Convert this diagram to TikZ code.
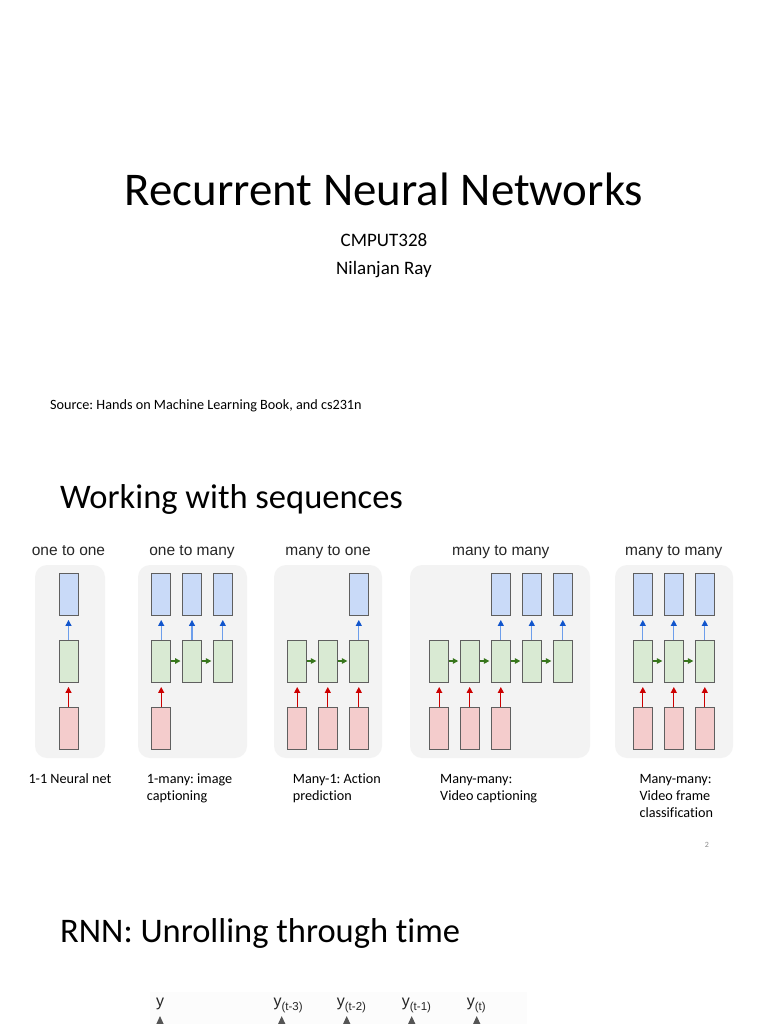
\documentclass[tikz,border=0pt]{standalone}
\usepackage{fontspec}
\setmainfont{Carlito}[Ligatures=NoCommon]
\newfontfamily\arialf{Liberation Sans}
\usetikzlibrary{arrows.meta}
\definecolor{panelgray}{HTML}{F3F3F3}
\definecolor{outfill}{HTML}{C9DAF8}
\definecolor{hidfill}{HTML}{D9EAD3}
\definecolor{infill}{HTML}{F4CCCC}
\definecolor{cellborder}{HTML}{5F5F5F}
\definecolor{blueL}{HTML}{6D9EEB}
\definecolor{blueD}{HTML}{1155CC}
\definecolor{redD}{HTML}{CC0000}
\definecolor{greenD}{HTML}{38761D}
\definecolor{tipgray}{HTML}{555555}
\tikzset{
  cell/.style={draw=cellborder, line width=0.9pt, minimum width=19pt, minimum height=42pt, inner sep=0pt},
  outcell/.style={cell, fill=outfill},
  hidcell/.style={cell, fill=hidfill},
  incell/.style={cell, fill=infill},
  panel/.style={fill=panelgray, rounded corners=12pt, draw=none, inner sep=0pt},
  upblue/.style={draw=blueL, line width=1.2pt, -{Triangle[length=6pt,width=6pt,color=blueD]}, shorten >=4.5pt},
  upred/.style={draw=redD, line width=1.2pt, -{Triangle[length=6pt,width=6pt,color=redD]}, shorten >=4.5pt},
  rgreen/.style={draw=greenD, line width=1.2pt, -{Triangle[length=5.5pt,width=5.5pt,color=greenD]}, shorten >=1.5pt},
  gtip/.style={draw=tipgray, line width=1.2pt, -{Triangle[length=8pt,width=7pt,color=tipgray]}},
  ptitle/.style={anchor=base, font=\arialf\fontsize{15.5}{17}\selectfont, text=black!85},
  lab/.style={anchor=base west, inner sep=0pt, font=\fontsize{14.2}{17}\selectfont},
  head/.style={anchor=base west, inner sep=0pt, font=\fontsize{34.5}{40}\selectfont},
  ylab/.style={anchor=base west, inner sep=0pt, font=\arialf\fontsize{16}{17}\selectfont, text=black!85},
}
\newcommand{\ysub}[1]{y\raisebox{-4pt}{\fontsize{11.5}{12}\selectfont #1}}
\begin{document}
\frenchspacing
\begin{tikzpicture}[x=1pt,y=-1pt]
\useasboundingbox (0,0) rectangle (768,1024);
\clip (0,0) rectangle (768,1024);
\fill[white] (0,0) rectangle (768,1024);

% ---------- title slide ----------
\node[anchor=base, inner sep=0pt, font=\fontsize{46.9}{52}\selectfont] (title) at (384,206) {Recurrent Neural Networks};
\node[anchor=base, inner sep=0pt, font=\fontsize{19}{22}\selectfont] (course) at (384,246) {CMPUT328};
\node[anchor=base, inner sep=0pt, font=\fontsize{19}{22}\selectfont] (author) at (384,274) {Nilanjan Ray};
\node[lab] (source) at (50,409) {Source: Hands on Machine Learning Book, and cs231n};

% ---------- working with sequences ----------
\node[head] (seqhead) at (60,508) {Working with sequences};

% panels
\node[panel, minimum width=70pt, minimum height=193pt] (panel1) at (70,661.5) {};
\node[panel, minimum width=109pt, minimum height=193pt] (panel2) at (192.5,661.5) {};
\node[panel, minimum width=108pt, minimum height=193pt] (panel3) at (328,661.5) {};
\node[panel, minimum width=180pt, minimum height=193pt] (panel4) at (500,661.5) {};
\node[panel, minimum width=118pt, minimum height=193pt] (panel5) at (674,661.5) {};

\node[ptitle] (t1) at (68.5,555) {one to one};
\node[ptitle] (t2) at (192,555) {one to many};
\node[ptitle] (t3) at (328,555) {many to one};
\node[ptitle] (t4) at (500.8,555) {many to many};
\node[ptitle] (t5) at (673.8,555) {many to many};

% panel 1
\node[outcell] (o11) at (68.5,594) {};
\node[hidcell] (h11) at (68.5,661) {};
\node[incell] (i11) at (68.5,728) {};
\draw[upblue] (h11.north) -- (o11.south);
\draw[upred] (i11.north) -- (h11.south);

% panel 2
\foreach \x [count=\i] in {161.2,192,222.8} {
  \node[outcell] (o2\i) at (\x,594) {};
  \node[hidcell] (h2\i) at (\x,661) {};
}
\node[incell] (i21) at (161.2,728) {};
\foreach \i in {1,2,3} \draw[upblue] (h2\i.north) -- (o2\i.south);
\foreach \i/\j in {1/2,2/3} \draw[rgreen] (h2\i.east) -- (h2\j.west);
\draw[upred] (i21.north) -- (h21.south);

% panel 3
\foreach \x [count=\i] in {297.2,327.8,358.8} {
  \node[hidcell] (h3\i) at (\x,661) {};
  \node[incell] (i3\i) at (\x,728) {};
}
\node[outcell] (o33) at (358.8,594) {};
\foreach \i in {1,2,3} \draw[upred] (i3\i.north) -- (h3\i.south);
\foreach \i/\j in {1/2,2/3} \draw[rgreen] (h3\i.east) -- (h3\j.west);
\draw[upblue] (h33.north) -- (o33.south);

% panel 4
\foreach \x [count=\i] in {439.2,469.7,500.8,531.8,562.8} {
  \node[hidcell] (h4\i) at (\x,661) {};
}
\foreach \x [count=\i] in {439.2,469.7,500.8} {
  \node[incell] (i4\i) at (\x,728) {};
}
\foreach \x/\i in {500.8/3,531.8/4,562.8/5} {
  \node[outcell] (o4\i) at (\x,594) {};
}
\foreach \i/\j in {1/2,2/3,3/4,4/5} \draw[rgreen] (h4\i.east) -- (h4\j.west);
\foreach \i in {1,2,3} \draw[upred] (i4\i.north) -- (h4\i.south);
\foreach \i in {3,4,5} \draw[upblue] (h4\i.north) -- (o4\i.south);

% panel 5
\foreach \x [count=\i] in {642.8,673.8,704.8} {
  \node[outcell] (o5\i) at (\x,594) {};
  \node[hidcell] (h5\i) at (\x,661) {};
  \node[incell] (i5\i) at (\x,728) {};
}
\foreach \i in {1,2,3} {
  \draw[upblue] (h5\i.north) -- (o5\i.south);
  \draw[upred] (i5\i.north) -- (h5\i.south);
}
\foreach \i/\j in {1/2,2/3} \draw[rgreen] (h5\i.east) -- (h5\j.west);

% captions
\node[lab] (c1a) at (28.3,783.5) {1-1 Neural net};
\node[lab] (c2a) at (146.7,783.5) {1-many: image};
\node[lab] (c2b) at (146.7,800.5) {captioning};
\node[lab] (c3a) at (292.7,783.5) {Many-1: Action};
\node[lab] (c3b) at (292.7,800.5) {prediction};
\node[lab] (c4a) at (440,783.5) {Many-many:};
\node[lab] (c4b) at (440,800.5) {Video captioning};
\node[lab] (c5a) at (639.3,783.5) {Many-many:};
\node[lab] (c5b) at (639.3,800.5) {Video frame};
\node[lab] (c5c) at (639.3,817.5) {classification};

\node[font=\fontsize{8}{9}\selectfont, text=black!45, inner sep=0pt] (pagenum) at (707,845) {2};

% ---------- unrolling through time ----------
\node[head] (rnnhead) at (60,942) {RNN: Unrolling through time};

\fill[black!1] (150,992) rectangle (527,1024);

\node[ylab] (y0) at (156,1006) {y};
\node[ylab] (y1) at (273.3,1006) {\ysub{(t-3)}};
\node[ylab] (y2) at (336.7,1006) {\ysub{(t-2)}};
\node[ylab] (y3) at (401.7,1006) {\ysub{(t-1)}};
\node[ylab] (y4) at (466.7,1006) {\ysub{(t)}};

\foreach \x [count=\i] in {160,281.7,346.7,411.7,476.7} {
  \coordinate (tail\i) at (\x,1034);
  \coordinate (tip\i) at (\x,1016);
  \draw[gtip] (tail\i) -- (tip\i);
}
\end{tikzpicture}
\end{document}
